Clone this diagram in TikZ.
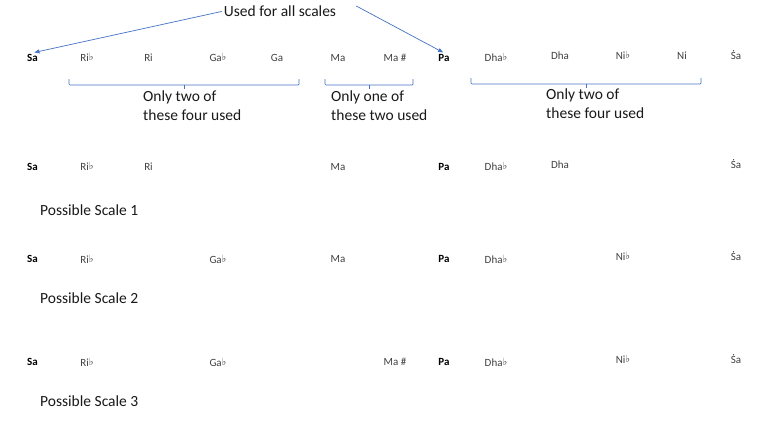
\documentclass[tikz,border=0pt]{standalone}
\usepackage{fontspec}
\setmainfont{Carlito}
\newfontfamily\symfont{DejaVu Sans}
\usetikzlibrary{arrows.meta}
\definecolor{lineblue}{HTML}{4472C4}
\definecolor{notegray}{HTML}{404040}
\newcommand\flt{\raisebox{1pt}{\symfont\fontsize{10}{10}\selectfont ♭}}
\begin{document}
\begin{tikzpicture}[x=1pt,y=-1pt,
  note/.style={font=\fontsize{11}{12}\selectfont, text=notegray, inner sep=1pt},
  key/.style={font=\fontsize{11}{12}\selectfont\bfseries, text=black, inner sep=1pt},
  big/.style={font=\fontsize{15.5}{19}\selectfont, text=black!90, inner sep=0pt, align=left},
  brace/.style={draw=lineblue, line width=0.7pt, rounded corners=1pt},
  pointer/.style={draw=lineblue, line width=0.7pt, -{Triangle[length=5pt,width=4pt]}}]
\useasboundingbox (0,0) rectangle (768,421);
\fill[white] (0,0) rectangle (768,421);

% title and pointers
\node[big] (t) at (280,11) {Used for all scales};

% row 1
\node[key]  (s1)  at (32.5,57.7) {Sa};
\node[note] (rb1) at (87,57.7) {Ri\flt};
\node[note] (ri1) at (148.5,57.7) {Ri};
\node[note] (gb1) at (218,57.7) {Ga\flt};
\node[note] (ga1) at (277,57.7) {Ga};
\node[note] (ma1) at (338,57.7) {Ma};
\node[note] (ms1) at (395,57.7) {Ma \#};
\node[key]  (p1)  at (444,57.7) {Pa};
\node[note] (db1) at (496,57.7) {Dha\flt};
\node[note] (dh1) at (560,55.5) {Dha};
\node[note] (nb1) at (623,55.5) {Ni\flt};
\node[note] (ni1) at (682,55.5) {Ni};
\node[note] (st1) at (736,55.5) {Ṡa};

\draw[pointer, shorten <=2pt, shorten >=2pt] (t.west) -- (s1.north);
\draw[pointer, shorten >=1pt] ([xshift=20pt,yshift=5pt]t.east) -- (p1.north);

% brackets
\draw[brace] (69,79) -- (69,85) -- (299,85) -- (299,79);
\draw[brace] (184,85) -- (184,89);
\draw[brace] (325,79) -- (325,85) -- (413,85) -- (413,79);
\draw[brace] (369,85) -- (369,89);
\draw[brace] (471,78) -- (471,84) -- (701,84) -- (701,78);
\draw[brace] (586,84) -- (586,88);

\node[big, anchor=north west] (c1) at (143,91) {Only two of\\these four used};
\node[big, anchor=north west] (c2) at (331,91) {Only one of\\these two used};
\node[big, anchor=north west] (c3) at (546,89) {Only two of\\these four used};

% row 2
\node[key]  (s2)  at (32.5,166.7) {Sa};
\node[note] (rb2) at (87,166.7) {Ri\flt};
\node[note] (ri2) at (148.5,166.7) {Ri};
\node[note] (ma2) at (338,166.7) {Ma};
\node[key]  (p2)  at (444,166.7) {Pa};
\node[note] (db2) at (496,166.7) {Dha\flt};
\node[note] (dh2) at (560,164.5) {Dha};
\node[note] (st2) at (736,164.5) {Ṡa};
\node[big, anchor=west] (l1) at (40,210) {Possible Scale 1};

% row 3
\node[key]  (s3)  at (32.5,259) {Sa};
\node[note] (rb3) at (87,259) {Ri\flt};
\node[note] (gb3) at (218,259) {Ga\flt};
\node[note] (ma3) at (338,259) {Ma};
\node[key]  (p3)  at (444,259) {Pa};
\node[note] (db3) at (496,259) {Dha\flt};
\node[note] (nb3) at (623,256.5) {Ni\flt};
\node[note] (st3) at (736,256.5) {Ṡa};
\node[big, anchor=west] (l2) at (40,298) {Possible Scale 2};

% row 4
\node[key]  (s4)  at (32.5,362) {Sa};
\node[note] (rb4) at (87,362) {Ri\flt};
\node[note] (gb4) at (218,362) {Ga\flt};
\node[note] (ms4) at (395,362) {Ma \#};
\node[key]  (p4)  at (444,362) {Pa};
\node[note] (db4) at (496,362) {Dha\flt};
\node[note] (nb4) at (623,359.5) {Ni\flt};
\node[note] (st4) at (736,359.5) {Ṡa};
\node[big, anchor=west] (l3) at (40,401) {Possible Scale 3};
\end{tikzpicture}
\end{document}
